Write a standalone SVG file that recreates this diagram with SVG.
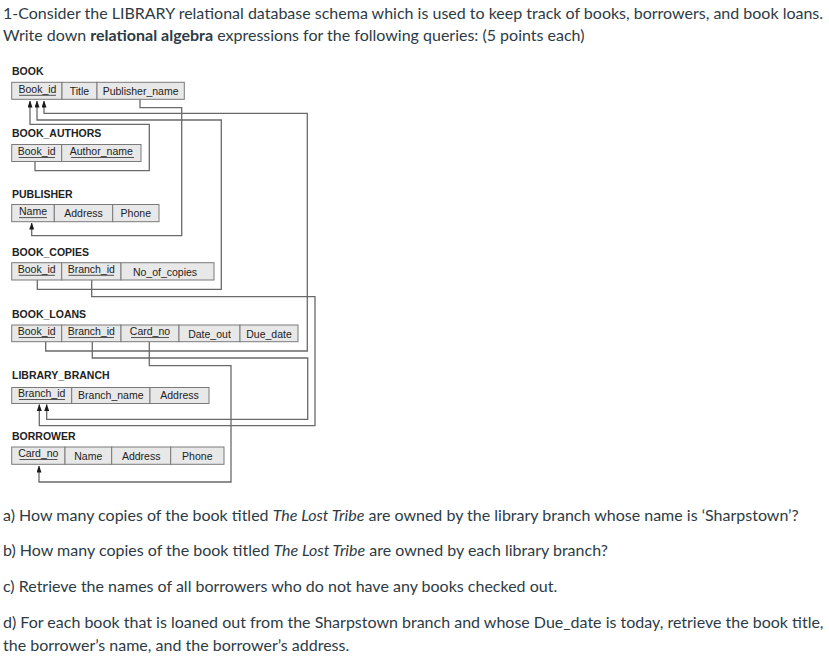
<svg xmlns="http://www.w3.org/2000/svg" width="829" height="663" viewBox="0 0 829 663">
<style>
.q{font-family:Lato,"Open Sans","Liberation Sans",sans-serif;font-size:16px;fill:#2d3b45}
.lbl{font-family:"Liberation Sans",Arial,sans-serif;font-size:10.5px;font-weight:bold;fill:#222}
.cell{fill:#e8e8e8;stroke:#7a7a7a;stroke-width:1}
.t{font-family:"Liberation Sans",Arial,sans-serif;font-size:10.5px;fill:#222;text-anchor:middle}
.u{stroke:#444;stroke-width:0.9}
.c{fill:none;stroke:#6a6a6a;stroke-width:1.3;marker-end:url(#ah)}
</style>
<defs>
<marker id="ah" viewBox="0 0 7 5" refX="6.5" refY="2.5" markerWidth="7" markerHeight="5" markerUnits="userSpaceOnUse" orient="auto">
<path d="M0,0 L7,2.5 L0,5 z" fill="#1a1a1a"/>
</marker>
</defs>
<rect width="829" height="663" fill="#fff"/>
<g id="header">
<text class="q" x="3" y="18.5">1-Consider the LIBRARY relational database schema which is used to keep track of books, borrowers, and book loans.</text>
<text class="q" x="3" y="41">Write down <tspan font-weight="bold">relational algebra</tspan> expressions for the following queries: (5 points each)</text>
</g>

<g id="connectors">
<path class="c" d="M35,161.7 V170.7 H149.3 V124.3 H30 V101"/>
<path class="c" d="M37.3,280 V289.3 H221.3 V120 H37 V101"/>
<path class="c" d="M45.7,341.7 V351 H307.3 V113.3 H44 V101"/>
<path class="c" d="M140,99.3 V107.7 H181.7 V235.7 H31.7 V223"/>
<path class="c" d="M91.7,280 V296.7 H315 V425.7 H39.3 V404.5"/>
<path class="c" d="M92.3,341.7 V358 H307.7 V419.3 H46.7 V404.5"/>
<path class="c" d="M149.3,341.7 V365.7 H231 V482 H39 V466"/>
</g>

<g id="BOOK">
<text class="lbl" x="12" y="75">BOOK</text>
<rect class="cell" x="11.7" y="82.3" width="50.3" height="17"/>
<rect class="cell" x="62" y="82.3" width="35" height="17"/>
<rect class="cell" x="97" y="82.3" width="87.3" height="17"/>
<text class="t" x="37.5" y="92.5">Book_id</text>
<line class="u" x1="19" y1="95.3" x2="56" y2="95.3"/>
<text class="t" x="79.5" y="95">Title</text>
<text class="t" x="140.6" y="95">Publisher_name</text>
</g>

<g id="BOOK_AUTHORS">
<text class="lbl" x="12" y="137">BOOK_AUTHORS</text>
<rect class="cell" x="11.7" y="144.5" width="50" height="17"/>
<rect class="cell" x="61.7" y="144.5" width="79.3" height="17"/>
<text class="t" x="36.7" y="154.7">Book_id</text>
<line class="u" x1="18.7" y1="157.5" x2="55" y2="157.5"/>
<text class="t" x="101.3" y="155">Author_name</text>
<line class="u" x1="71" y1="157.5" x2="134" y2="157.5"/>
</g>

<g id="PUBLISHER">
<text class="lbl" x="12" y="197.7">PUBLISHER</text>
<rect class="cell" x="11.7" y="204.5" width="42.6" height="17.2"/>
<rect class="cell" x="54.3" y="204.5" width="58.4" height="17.2"/>
<rect class="cell" x="112.7" y="204.5" width="46.3" height="17.2"/>
<text class="t" x="33" y="214.7">Name</text>
<line class="u" x1="19" y1="217.6" x2="47" y2="217.6"/>
<text class="t" x="83.5" y="217">Address</text>
<text class="t" x="135.8" y="217">Phone</text>
</g>

<g id="BOOK_COPIES">
<text class="lbl" x="12" y="256">BOOK_COPIES</text>
<rect class="cell" x="11.7" y="262.7" width="50" height="17.3"/>
<rect class="cell" x="61.7" y="262.7" width="59.3" height="17.3"/>
<rect class="cell" x="121" y="262.7" width="93" height="17.3"/>
<text class="t" x="36.7" y="272.5">Book_id</text>
<line class="u" x1="18.7" y1="275.3" x2="55" y2="275.3"/>
<text class="t" x="91.3" y="272.5">Branch_id</text>
<line class="u" x1="68.5" y1="275.3" x2="114" y2="275.3"/>
<text class="t" x="165" y="276">No_of_copies</text>
</g>

<g id="BOOK_LOANS">
<text class="lbl" x="12" y="318">BOOK_LOANS</text>
<rect class="cell" x="11.7" y="325" width="50" height="16.7"/>
<rect class="cell" x="61.7" y="325" width="59.3" height="16.7"/>
<rect class="cell" x="121" y="325" width="58" height="16.7"/>
<rect class="cell" x="179" y="325" width="61" height="16.7"/>
<rect class="cell" x="240" y="325" width="58" height="16.7"/>
<text class="t" x="36.7" y="334.7">Book_id</text>
<line class="u" x1="18.7" y1="337.5" x2="55" y2="337.5"/>
<text class="t" x="91.3" y="334.7">Branch_id</text>
<line class="u" x1="68.5" y1="337.5" x2="114" y2="337.5"/>
<text class="t" x="150" y="334.7">Card_no</text>
<line class="u" x1="131" y1="337.5" x2="169" y2="337.5"/>
<text class="t" x="209.5" y="337.5">Date_out</text>
<text class="t" x="269" y="337.5">Due_date</text>
</g>

<g id="LIBRARY_BRANCH">
<text class="lbl" x="12" y="378.5">LIBRARY_BRANCH</text>
<rect class="cell" x="11.7" y="387.5" width="60" height="16"/>
<rect class="cell" x="71.7" y="387.5" width="78.3" height="16"/>
<rect class="cell" x="150" y="387.5" width="59" height="16"/>
<text class="t" x="41.7" y="396.5">Branch_id</text>
<line class="u" x1="19" y1="399.5" x2="65" y2="399.5"/>
<text class="t" x="110.8" y="399.2">Branch_name</text>
<text class="t" x="179.5" y="399.2">Address</text>
</g>

<g id="BORROWER">
<text class="lbl" x="12" y="439.5">BORROWER</text>
<rect class="cell" x="11.7" y="447" width="53.3" height="17.3"/>
<rect class="cell" x="65" y="447" width="46.7" height="17.3"/>
<rect class="cell" x="111.7" y="447" width="59" height="17.3"/>
<rect class="cell" x="170.7" y="447" width="53.3" height="17.3"/>
<text class="t" x="38.3" y="456.5">Card_no</text>
<line class="u" x1="19.5" y1="459.5" x2="57.5" y2="459.5"/>
<text class="t" x="88.3" y="460">Name</text>
<text class="t" x="141.2" y="460">Address</text>
<text class="t" x="197.3" y="460">Phone</text>
</g>

<g id="questions">
<text class="q" x="3" y="520.7">a) How many copies of the book titled <tspan font-style="italic">The Lost Tribe</tspan> are owned by the library branch whose name is ‘Sharpstown’?</text>
<text class="q" x="3" y="556">b) How many copies of the book titled <tspan font-style="italic">The Lost Tribe</tspan> are owned by each library branch?</text>
<text class="q" x="3" y="591.7">c) Retrieve the names of all borrowers who do not have any books checked out.</text>
<text class="q" x="3" y="627.7">d) For each book that is loaned out from the Sharpstown branch and whose Due_date is today, retrieve the book title,</text>
<text class="q" x="3" y="650.7">the borrower’s name, and the borrower’s address.</text>
</g>
</svg>
